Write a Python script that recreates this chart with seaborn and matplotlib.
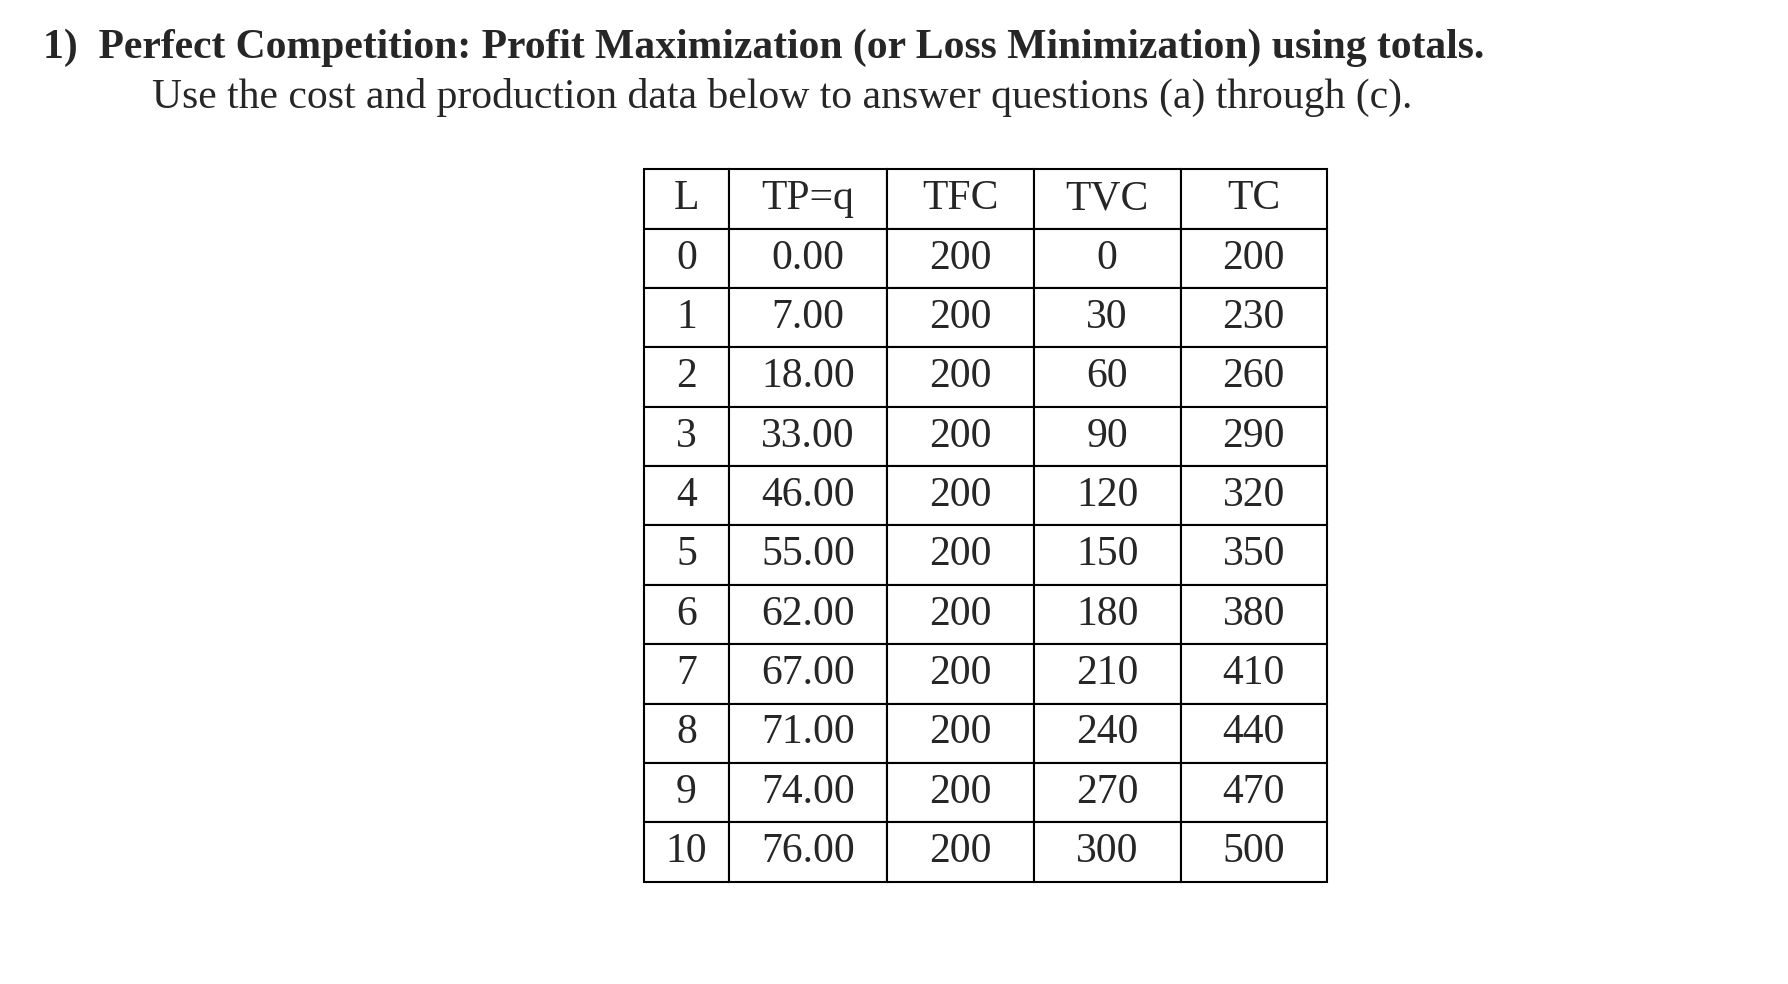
import matplotlib
matplotlib.use("Agg")
import matplotlib.pyplot as plt
import seaborn as sns

sns.set_theme(style="white")
plt.rcParams['font.family'] = ['Liberation Serif', 'DejaVu Serif']

title_line1 = "1)  Perfect Competition: Profit Maximization (or Loss Minimization) using totals."
title_line2 = "Use the cost and production data below to answer questions (a) through (c)."
columns = ["L", "TP=q", "TFC", "TVC", "TC"]
L = [0, 1, 2, 3, 4, 5, 6, 7, 8, 9, 10]
TP = [0.00, 7.00, 18.00, 33.00, 46.00, 55.00, 62.00, 67.00, 71.00, 74.00, 76.00]
TFC = [200] * 11
TVC = [0, 30, 60, 90, 120, 150, 180, 210, 240, 270, 300]
TC = [200, 230, 260, 290, 320, 350, 380, 410, 440, 470, 500]

fig = plt.figure(figsize=(17.88, 9.84), dpi=100)
fig.patch.set_facecolor("white")
fig.text(0.024, 0.951, title_line1, fontsize=30, fontweight="bold", va="center", ha="left")
fig.text(0.085, 0.901, title_line2, fontsize=30, va="center", ha="left")

ax = fig.add_axes([0.360, 0.104, 0.382, 0.724])
ax.axis("off")
cells = [[str(l), f"{t:.2f}", str(f), str(v), str(c)] for l, t, f, v, c in zip(L, TP, TFC, TVC, TC)]
bounds = [564, 639, 777, 906, 1035, 1163]
widths = [(bounds[i + 1] - bounds[i]) / (bounds[-1] - bounds[0]) for i in range(5)]
tab = ax.table(cellText=cells, colLabels=columns, colWidths=widths, cellLoc="center",
               bbox=[0, 0, 1, 1])
tab.auto_set_font_size(False)
for (r, c), cell in tab.get_celld().items():
    cell.set_edgecolor("black")
    cell.set_linewidth(1.5)
    cell.set_facecolor("white")
    cell.get_text().set_fontsize(30)
    cell.get_text().set_fontfamily(['Liberation Serif', 'DejaVu Serif'])

fig.savefig("out.png", dpi=100, facecolor="white")
